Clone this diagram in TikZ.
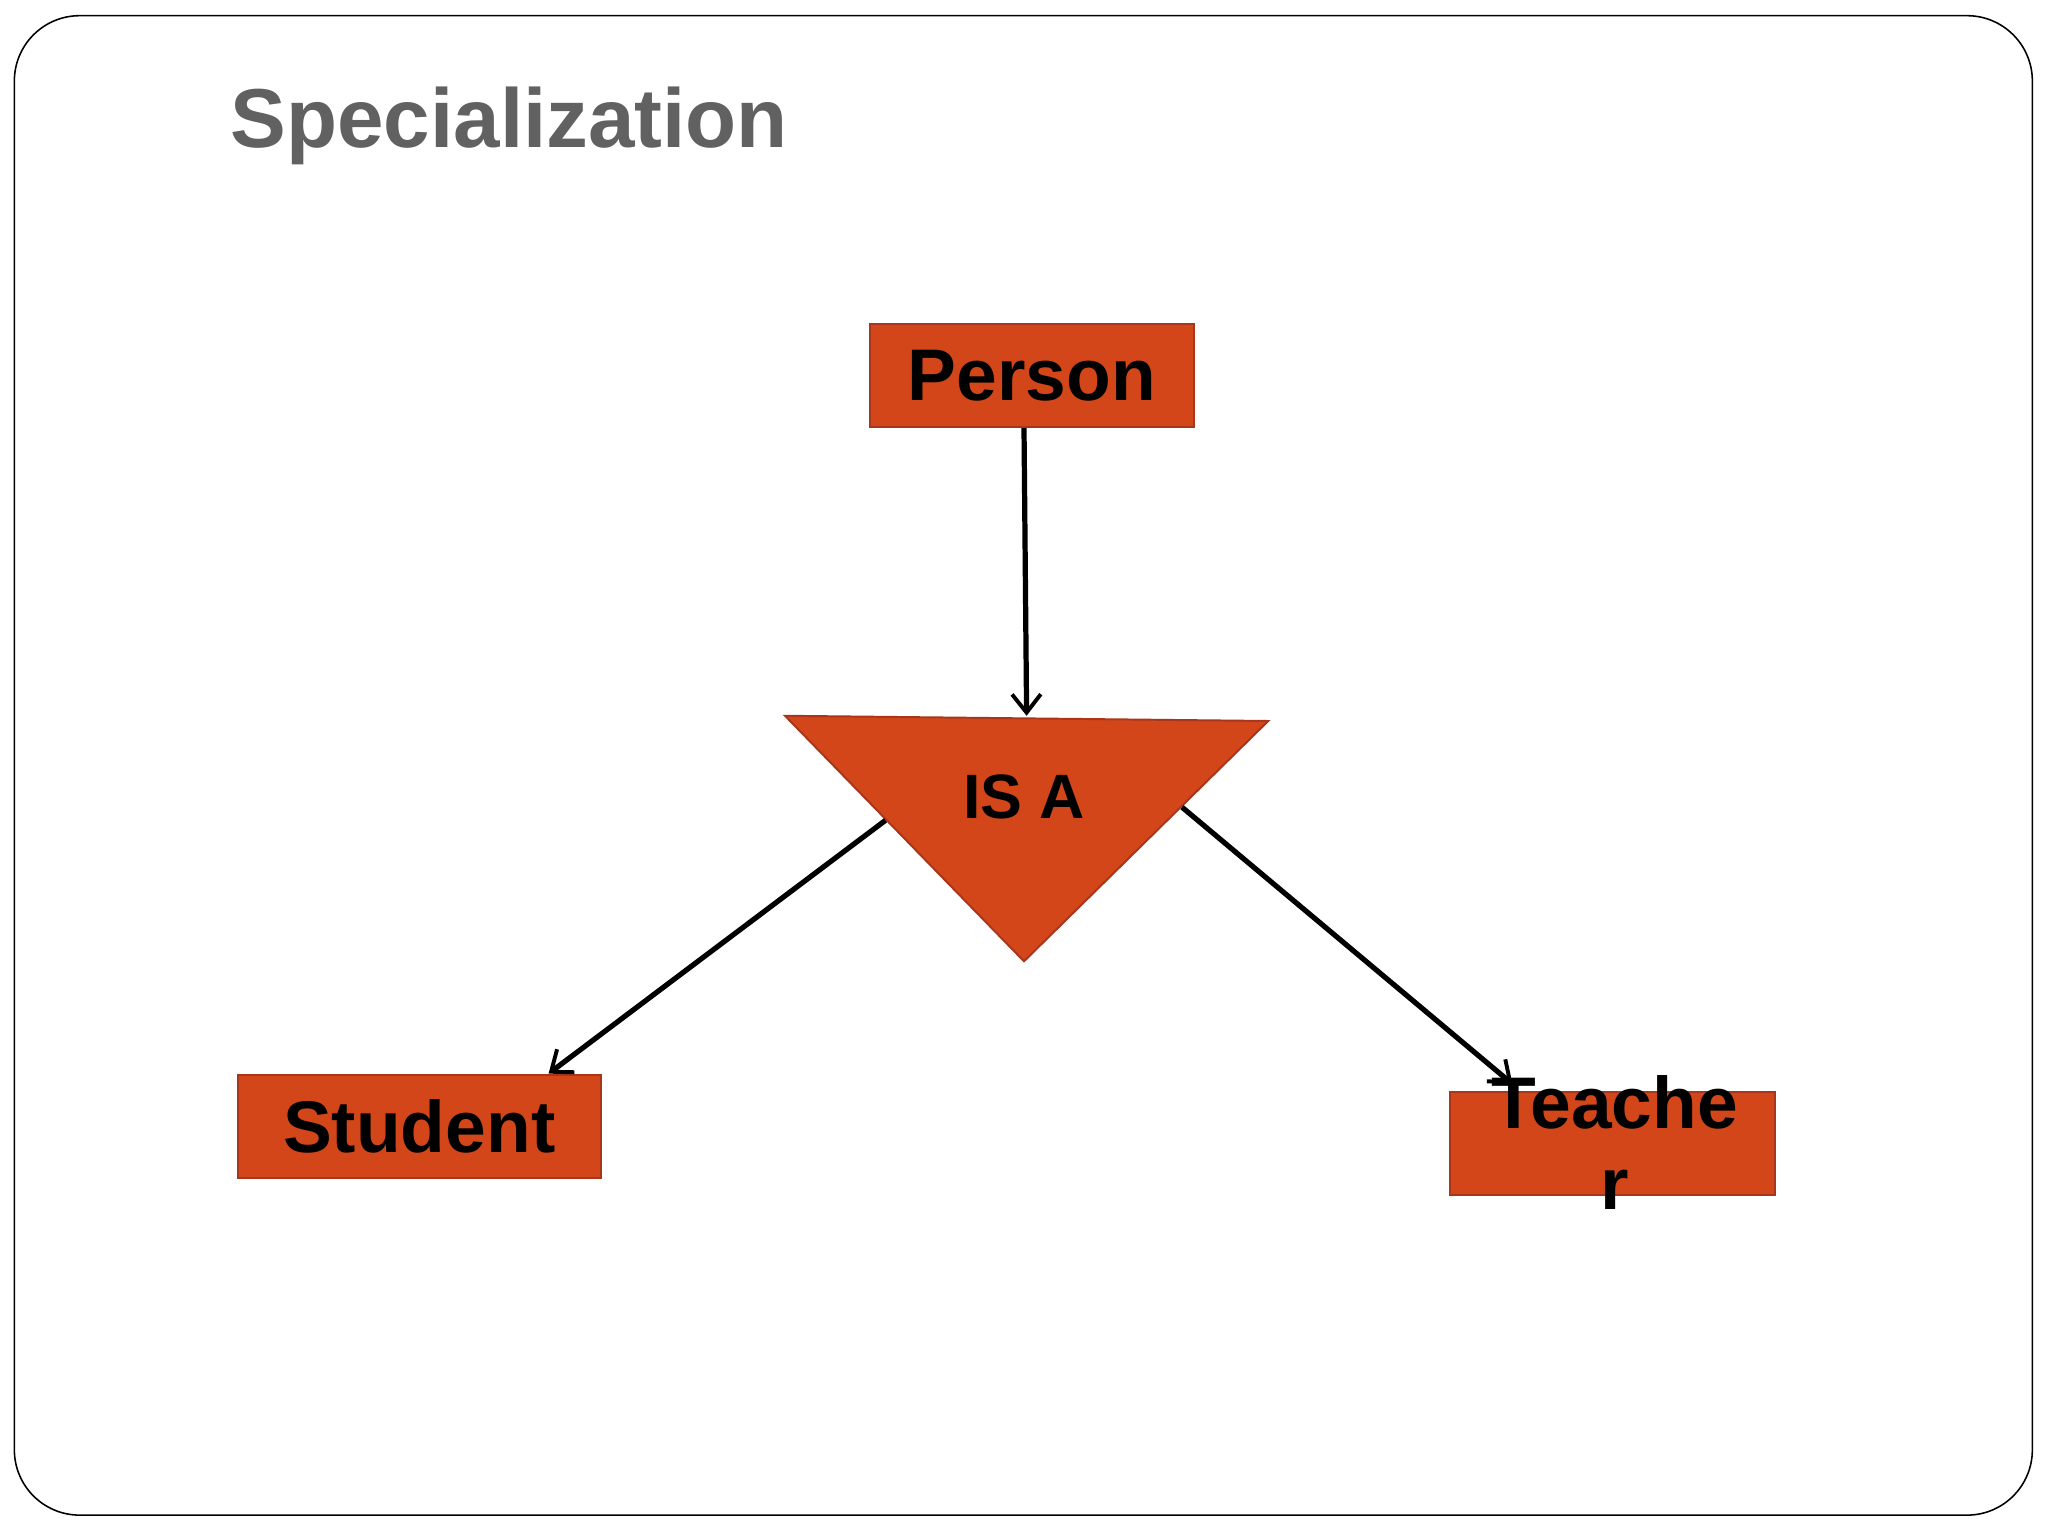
\documentclass[tikz,border=0pt]{standalone}
\usepackage{fontspec}
\setmainfont{Liberation Sans}
\usetikzlibrary{arrows.meta}
\definecolor{boxfill}{HTML}{D2461A}
\definecolor{boxline}{HTML}{A8361A}
\definecolor{titlegrey}{HTML}{616161}
\begin{document}
\begin{tikzpicture}[x=1pt,y=-1pt,
  ent/.style={draw=boxline,line width=1.5pt,fill=boxfill,minimum height=79pt,inner sep=0pt},
  conn/.style={line width=4pt,-{Straight Barb[length=14pt,width=22pt,line width=3pt]}}]
\useasboundingbox (0,0) rectangle (1568,1176);
\fill[white] (0,0) rectangle (1568,1176);
\draw[line width=1.2pt,rounded corners=50pt] (11,12) rectangle (1556,1160);
\node[anchor=base west,text=titlegrey,font=\fontsize{64}{70}\selectfont\bfseries] (title) at (173,113) {Specialization};
\node[ent,minimum width=248pt,font=\fontsize{56}{60}\selectfont\bfseries] (person) at (790,287.5) {Person};
\node[ent,minimum width=278pt,font=\fontsize{56}{60}\selectfont\bfseries] (student) at (321,862.5) {Student};
\node[ent,minimum width=249pt] (teacher) at (1234.5,875.5) {};
\node[font=\fontsize{56}{62}\selectfont\bfseries,align=center] (tlabel) at (1236,875) {Teache\\r};
\draw[draw=boxline,line width=1.5pt,fill=boxfill] (601,548) coordinate (t1) -- (971,552) coordinate (t2) -- (784,736) coordinate (t3) -- cycle;
\node[font=\fontsize{48}{52}\selectfont\bfseries] (isa) at (784,610) {IS A};
\coordinate (isatop) at (786,548);
\coordinate (isaleft) at (678,628);
\coordinate (isaright) at (905,618);
\coordinate (stuend) at (420,822);
\coordinate (teaend) at (1158,830);
\draw[conn] (person.south -| 784,0) -- (isatop);
\draw[conn] (isaleft) -- (stuend);
\draw[conn] (isaright) -- (teaend);
\end{tikzpicture}
\end{document}
